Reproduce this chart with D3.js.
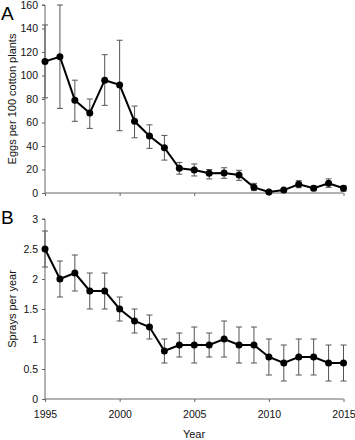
<!DOCTYPE html>
<html><head><meta charset="utf-8">
<script src="https://cdn.jsdelivr.net/npm/d3@7"></script>
<style>body{margin:0;background:#fff}svg{display:block}text{font-family:"Liberation Sans",Arial,sans-serif}</style>
</head><body><svg id="c" width="355" height="440"></svg>
<script>
const years = d3.range(1995, 2016);
const eggs      = [112, 116, 79, 68, 96, 92, 61, 48.5, 38.5, 21, 19.6, 16.8, 17, 15.3, 4.8, 0.9, 2.5, 7.4, 4, 8.2, 4];
const eggsHi    = [143, 160, 96, 80, 117.7, 130, 74, 58, 49, 26, 24.7, 20, 21.5, 19.3, 8.2, 1.5, 3.5, 10.5, 6, 12, 6];
const eggsLo    = [81, 72, 61, 55, 74.6, 53, 47, 38, 28, 16, 14.5, 12, 12.5, 10.8, 2, 0.3, 1.5, 4.5, 2, 4.8, 1.5];
const sprays    = [2.5, 2.0, 2.1, 1.8, 1.8, 1.5, 1.3, 1.2, 0.8, 0.9, 0.9, 0.9, 1.0, 0.9, 0.9, 0.7, 0.6, 0.7, 0.7, 0.6, 0.6];
const spraysHi  = [2.8, 2.3, 2.4, 2.1, 2.1, 1.7, 1.5, 1.4, 1.0, 1.1, 1.2, 1.1, 1.3, 1.2, 1.2, 1.0, 0.9, 1.0, 1.0, 0.9, 0.9];
const spraysLo  = [2.2, 1.7, 1.8, 1.5, 1.5, 1.3, 1.1, 1.0, 0.6, 0.7, 0.6, 0.7, 0.7, 0.6, 0.6, 0.4, 0.3, 0.4, 0.4, 0.3, 0.3];
const eggTicks = d3.range(0, 161, 20);
const sprayTicks = [0, 0.5, 1, 1.5, 2, 2.5, 3];
const yearTicks = [1995, 2000, 2005, 2010, 2015];

const svg = d3.select("#c");
const x = d3.scaleLinear().domain([1995, 2015]).range([45, 343.5]);
const axisCol = "#666";

function panel(yScale, vals, hi, lo, ticks, fmt, label, letter, letterY, xLabels) {
  const g = svg.append("g");
  const x0 = x(1995), yb = yScale(0);
  const ya = g.append("g").attr("transform", `translate(${x0},0)`)
    .call(d3.axisLeft(yScale).tickValues(ticks).tickSize(3).tickFormat(fmt));
  ya.select(".domain").attr("stroke", axisCol).attr("d", `M-3,${yScale(ticks[ticks.length-1])}H0V${yb}`);
  ya.selectAll(".tick line").attr("stroke", axisCol);
  ya.selectAll(".tick text").attr("font-size", 10.5).attr("fill", "#111").attr("x", -7).attr("font-family", "Liberation Sans, Arial, sans-serif");
  const xa = g.append("g").attr("transform", `translate(0,${yb})`)
    .call(d3.axisBottom(x).tickValues(yearTicks).tickSize(3).tickFormat(xLabels ? d3.format("d") : ""));
  xa.select(".domain").attr("stroke", axisCol).attr("d", `M${x0},0H${x(2015)}`);
  xa.selectAll(".tick line").attr("stroke", axisCol);
  xa.selectAll(".tick text").attr("font-size", 10.5).attr("fill", "#111").attr("y", 12).attr("font-family", "Liberation Sans, Arial, sans-serif");
  const eb = g.append("g").attr("stroke", "#555").attr("stroke-width", 1);
  years.forEach((yr, i) => {
    const cx = x(yr);
    eb.append("line").attr("x1", cx).attr("x2", cx).attr("y1", yScale(hi[i])).attr("y2", yScale(lo[i]));
    [hi[i], lo[i]].forEach(v => eb.append("line").attr("x1", cx - 3).attr("x2", cx + 3).attr("y1", yScale(v)).attr("y2", yScale(v)));
  });
  g.append("path").datum(vals).attr("fill", "none").attr("stroke", "#000").attr("stroke-width", 2)
    .attr("d", d3.line().x((d, i) => x(years[i])).y(d => yScale(d)));
  g.selectAll("circle").data(vals).join("circle")
    .attr("cx", (d, i) => x(years[i])).attr("cy", d => yScale(d)).attr("r", 3.5).attr("fill", "#000");
  const ym = (yScale.range()[0] + yScale.range()[1]) / 2;
  g.append("text").attr("transform", `translate(16,${ym}) rotate(-90)`).attr("text-anchor", "middle")
    .attr("font-size", 11).attr("fill", "#111").text(label);
  g.append("text").attr("x", 1).attr("y", letterY).attr("font-size", 19).attr("fill", "#000").text(letter);
}

const yA = d3.scaleLinear().domain([0, 160]).range([193, 5]);
const yB = d3.scaleLinear().domain([0, 3]).range([399, 219]);
panel(yA, eggs, eggsHi, eggsLo, eggTicks, d3.format("d"), "Eggs per 100 cotton plants", "A", 20, false);
panel(yB, sprays, spraysHi, spraysLo, sprayTicks, d => String(d), "Sprays per year", "B", 224, true);
svg.append("text").attr("x", 194).attr("y", 438).attr("text-anchor", "middle").attr("font-size", 11).attr("fill", "#111").text("Year");
</script></body></html>
